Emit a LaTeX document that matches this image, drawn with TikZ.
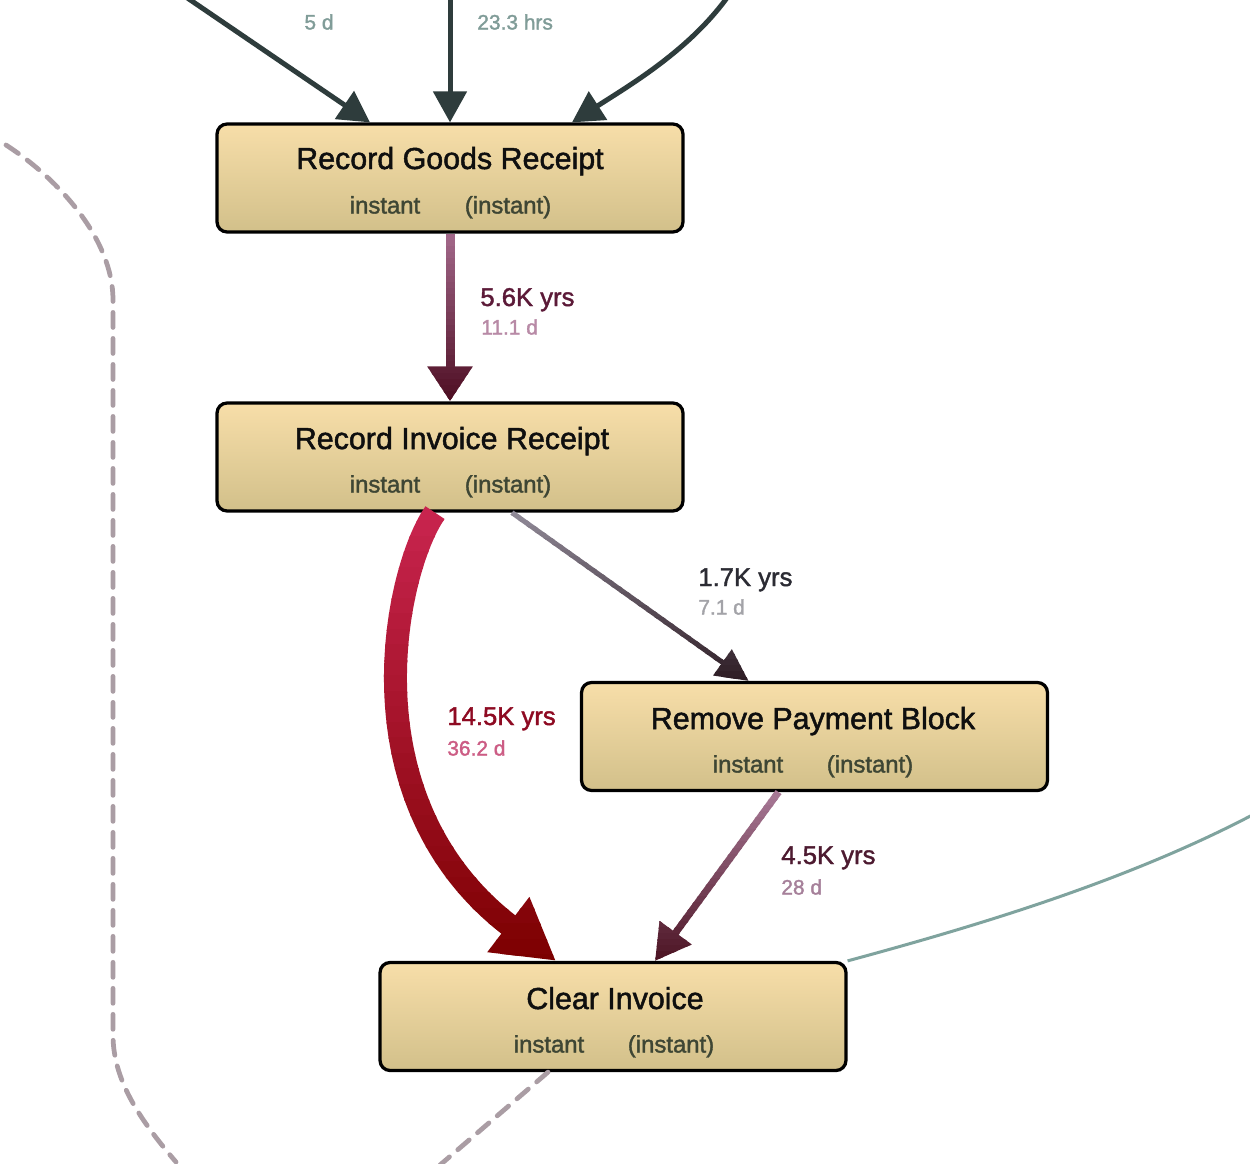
\documentclass[tikz,border=0pt]{standalone}
\usepackage{fontspec}
\setmainfont{Liberation Sans}[FakeBold=1.6]
\usetikzlibrary{arrows.meta}
\definecolor{boxtop}{HTML}{F7DEA9}
\definecolor{boxbot}{HTML}{D2C08A}
\definecolor{subtxt}{HTML}{3E4634}
\definecolor{slate}{HTML}{2E3C3C}
\definecolor{teal}{HTML}{7FA39E}
\definecolor{dashgray}{HTML}{AA9DA4}
\definecolor{toplbl}{HTML}{809C98}
\definecolor{aTop}{HTML}{A46A8C}
\definecolor{aBot}{HTML}{4A0A1E}
\definecolor{bTop}{HTML}{908A98}
\definecolor{bBot}{HTML}{2A1820}
\definecolor{cTop}{HTML}{C8244E}
\definecolor{cBot}{HTML}{7C0000}
\definecolor{dTop}{HTML}{A97A98}
\definecolor{dBot}{HTML}{48101F}
\definecolor{lA}{HTML}{5C1A38}
\definecolor{sA}{HTML}{B88AA6}
\definecolor{lB}{HTML}{2B2B33}
\definecolor{sB}{HTML}{A3A3A8}
\definecolor{lC}{HTML}{8E0A22}
\definecolor{sC}{HTML}{CC5C84}
\definecolor{lD}{HTML}{4D1A30}
\definecolor{sD}{HTML}{A6809A}
\newcommand\gradstroke[6]{%
  \foreach \gi in {0,...,29}{%
    \pgfmathsetmacro\gya{#1+(#2-#1)*\gi/30}%
    \pgfmathsetmacro\gyb{#1+(#2-#1)*(\gi+1)/30+1}%
    \pgfmathtruncatemacro\gpc{100*\gi/29}%
    \begin{scope}
      \clip (-100,\gya) rectangle (1400,\gyb);
      \draw[draw={#4!\gpc!#3},#5] #6;
    \end{scope}
  }}
\tikzset{
  box/.style={draw=black, line width=0.065cm, rounded corners=0.2cm,
    top color=boxtop, bottom color=boxbot,
    minimum width=9.32cm, minimum height=2.16cm, inner sep=0pt},
  ttl/.style={font=\fontsize{17.3}{20}\selectfont, text=black!94, anchor=base, inner sep=0pt},
  sub/.style={font=\fontsize{13.6}{16}\selectfont, text=subtxt, anchor=base, inner sep=0pt},
  bigl/.style={font=\fontsize{14.6}{17}\selectfont, anchor=base west, inner sep=0pt},
  smalll/.style={font=\fontsize{11.9}{14}\selectfont, anchor=base west, inner sep=0pt},
  dashline/.style={draw=dashgray, line width=0.095cm, line cap=round, dash pattern=on 0.3cm off 0.22cm},
  inarrow/.style={draw=slate, line width=0.1cm, -{Triangle[length=0.62cm,width=0.66cm]}},
}
\begin{document}
\begin{tikzpicture}[x=0.02cm,y=-0.02cm]
\useasboundingbox (0,0) rectangle (1250,1163);
\clip (0,0) rectangle (1250,1163);
\fill[white] (0,0) rectangle (1250,1163);

% nodes
\node[box] (rgr) at (450,178) {};
\node[box] (rir) at (450,457) {};
\node[box] (rpb) at (814.5,736.5) {};
\node[box] (ci)  at (613,1016.5) {};

% free coordinates
\coordinate (tl) at (183,-5);
\coordinate (tm) at (450,-5);
\coordinate (tr) at (729,-5);
\coordinate (tealend) at (1258,812);
\coordinate (dA) at (6,145);
\coordinate (dB) at (113,300);
\coordinate (dC) at (113,1035);
\coordinate (dD) at (176,1162);
\coordinate (dE) at (440,1165);

% dashed loop edges
\draw[dashline] (dA) .. controls (60,180) and (113,240) .. (dB) -- (dC)
   .. controls (113,1080) and (140,1120) .. (dD);
\draw[dashline] ([xshift=-1.3cm]ci.south) -- (dE);

% teal edge
\draw[teal, line width=0.06cm] (ci.north east) .. controls (980,925) and (1130,880) .. (tealend);

% incoming edges
\draw[inarrow] (tl) -- ([xshift=-1.6cm]rgr.north);
\draw[inarrow] (tm) -- (rgr.north);
\draw[inarrow] (tr) .. controls (690,50) and (630,85) .. ([xshift=2.44cm]rgr.north);

% gradient edges
\gradstroke{228}{410}{aTop}{aBot}{line width=0.18cm, -{Triangle[length=0.7cm,width=0.86cm]}}{(rgr.south) -- (rir.north)}
\gradstroke{508}{690}{bTop}{bBot}{line width=0.1cm, -{Triangle[length=0.64cm,width=0.62cm]}}{([xshift=1.24cm]rir.south) -- ([xshift=-1.32cm]rpb.north)}
\gradstroke{505}{970}{cTop}{cBot}{line width=0.46cm, -{Triangle[length=1.2cm,width=1.3cm]}}{([xshift=-0.3cm]rir.south) .. controls (395,570) and (345,800) .. ([xshift=-1.14cm]ci.north)}
\gradstroke{787}{970}{dTop}{dBot}{line width=0.14cm, -{Triangle[length=0.7cm,width=0.76cm]}}{([xshift=-0.72cm]rpb.south) -- ([xshift=0.84cm]ci.north)}

% node texts
\node[ttl] (rgrT) at (450,169) {Record Goods Receipt};
\node[sub] (rgrA) at (385,213.5) {instant};
\node[sub] (rgrB) at (508,213.5) {(instant)};
\node[ttl] (rirT) at (452,449) {Record Invoice Receipt};
\node[sub] (rirA) at (385,492.5) {instant};
\node[sub] (rirB) at (508,492.5) {(instant)};
\node[ttl] (rpbT) at (813,729) {Remove Payment Block};
\node[sub] (rpbA) at (748,772.5) {instant};
\node[sub] (rpbB) at (870,772.5) {(instant)};
\node[ttl] (ciT) at (615,1009) {Clear Invoice};
\node[sub] (ciA) at (549,1052.5) {instant};
\node[sub] (ciB) at (671,1052.5) {(instant)};

% edge labels
\node[smalll, text=toplbl, anchor=base] (l1) at (319,29.5) {5 d};
\node[smalll, text=toplbl] (l2) at (477,29.5) {23.3 hrs};
\node[bigl, text=lA] (l3) at (480,306) {5.6K yrs};
\node[smalll, text=sA] (l4) at (481,334.5) {11.1 d};
\node[bigl, text=lB] (l5) at (698,586) {1.7K yrs};
\node[smalll, text=sB] (l6) at (698,614.5) {7.1 d};
\node[bigl, text=lC] (l7) at (447,725) {14.5K yrs};
\node[smalll, text=sC] (l8) at (447,755.5) {36.2 d};
\node[bigl, text=lD] (l9) at (781,864) {4.5K yrs};
\node[smalll, text=sD] (l10) at (781,894.5) {28 d};
\end{tikzpicture}
\end{document}
